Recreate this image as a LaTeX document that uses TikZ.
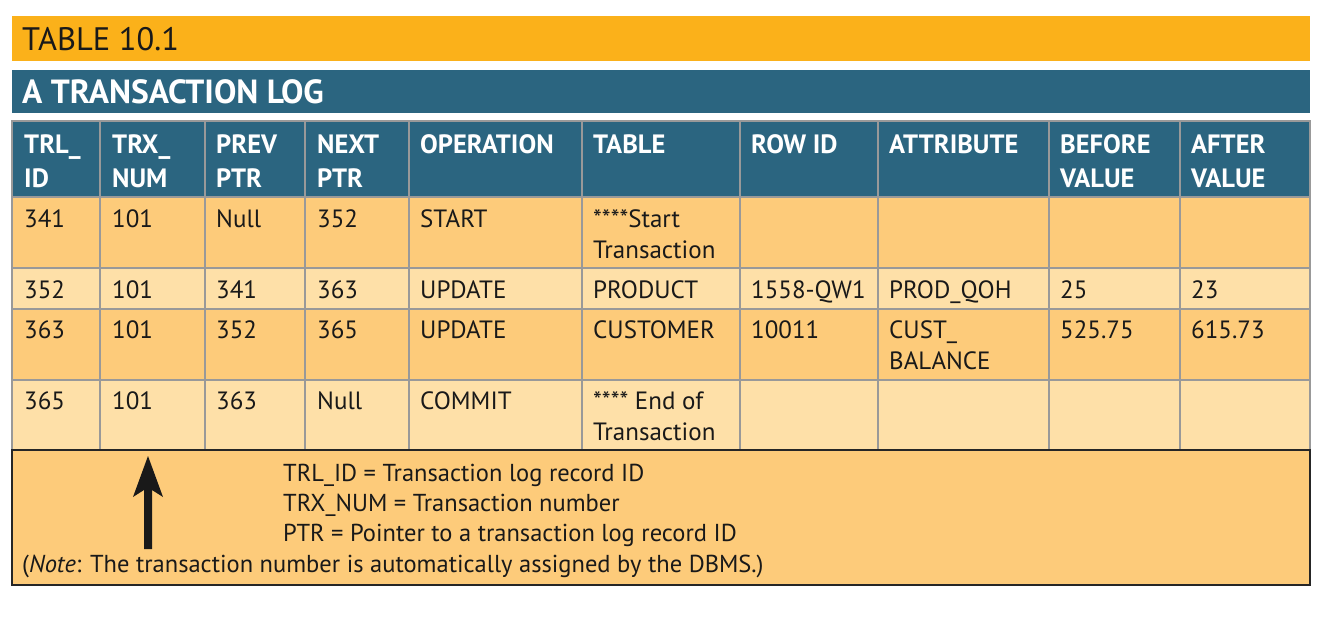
\documentclass[tikz,border=0pt]{standalone}
\usepackage{fontspec}
\setmainfont{PT Sans}
\definecolor{ora}{HTML}{FBB11A}
\definecolor{blu}{HTML}{2B6580}
\definecolor{dk}{HTML}{FDCB7A}
\definecolor{lt}{HTML}{FEE0A8}
\definecolor{grd}{HTML}{999999}
\tikzset{hd/.style={anchor=base west,text=white,font=\fontsize{26.5}{34}\selectfont\bfseries,align=left,inner sep=0pt},
 cell/.style={anchor=base west,text=black!90,font=\fontsize{25}{31}\selectfont,align=left,inner sep=0pt},
 leg/.style={anchor=base west,text=black!90,font=\fontsize{24.5}{30}\selectfont,inner sep=0pt}}
\begin{document}
\begin{tikzpicture}[x=1pt,y=-1pt]
\useasboundingbox (0,0) rectangle (1322,624);
\fill[ora] (12,16) rectangle (1310,61);
\node[anchor=base west,inner sep=0pt,font=\fontsize{32.5}{32}\selectfont,text=black!90] (t1) at (22,50) {TABLE 10.1};
\fill[blu] (12,70) rectangle (1310,113);
\node[anchor=base west,inner sep=0pt,font=\fontsize{33.5}{32}\selectfont\bfseries,text=white] (t2) at (22,103) {A TRANSACTION LOG};
\fill[blu] (12,121) rectangle (1310,197);
\fill[dk] (12,197) rectangle (1310,268);
\fill[lt] (12,268) rectangle (1310,309);
\fill[dk] (12,309) rectangle (1310,380);
\fill[lt] (12,380) rectangle (1310,450);
\fill[dk] (12,450) rectangle (1310,585);
\foreach \x in {100,205,305,409,582,740,878,1049,1180}{\draw[grd,line width=2] (\x,121) -- (\x,450);}
\foreach \y in {197,268,309,380}{\draw[grd,line width=2] (12,\y) -- (1310,\y);}
\draw[grd,line width=2] (12,121) rectangle (1310,450);
\draw[black!85,line width=1.5] (12,450) rectangle (1310,585);
% header
\node[hd] (h1) at (24,187) {TRL\_\\ID};
\node[hd] (h2) at (112,187) {TRX\_\\NUM};
\node[hd] (h3) at (216,187) {PREV\\PTR};
\node[hd] (h4) at (317,187) {NEXT\\PTR};
\node[hd] (h5) at (420,153) {OPERATION};
\node[hd] (h6) at (593,153) {TABLE};
\node[hd] (h7) at (751,153) {ROW ID};
\node[hd] (h8) at (889,153) {ATTRIBUTE};
\node[hd] (h9) at (1060,187) {BEFORE\\VALUE};
\node[hd] (h10) at (1191,187) {AFTER\\VALUE};
% row 1
\node[cell] (a1) at (24,227) {341};
\node[cell] (a2) at (112,227) {101};
\node[cell] (a3) at (216,227) {Null};
\node[cell] (a4) at (317,227) {352};
\node[cell] (a5) at (420,227) {START};
\node[cell] (a6) at (593,258) {****Start\\Transaction};
% row 2
\node[cell] (b1) at (24,298) {352};
\node[cell] (b2) at (112,298) {101};
\node[cell] (b3) at (216,298) {341};
\node[cell] (b4) at (317,298) {363};
\node[cell] (b5) at (420,298) {UPDATE};
\node[cell] (b6) at (593,298) {PRODUCT};
\node[cell] (b7) at (751,298) {1558-QW1};
\node[cell] (b8) at (889,298) {PROD\_QOH};
\node[cell] (b9) at (1060,298) {25};
\node[cell] (b10) at (1191,298) {23};
% row 3
\node[cell] (c1) at (24,338) {363};
\node[cell] (c2) at (112,338) {101};
\node[cell] (c3) at (216,338) {352};
\node[cell] (c4) at (317,338) {365};
\node[cell] (c5) at (420,338) {UPDATE};
\node[cell] (c6) at (593,338) {CUSTOMER};
\node[cell] (c7) at (751,338) {10011};
\node[cell] (c8) at (889,369) {CUST\_\\BALANCE};
\node[cell] (c9) at (1060,338) {525.75};
\node[cell] (c10) at (1191,338) {615.73};
% row 4
\node[cell] (d1) at (24,409) {365};
\node[cell] (d2) at (112,409) {101};
\node[cell] (d3) at (216,409) {363};
\node[cell] (d4) at (317,409) {Null};
\node[cell] (d5) at (420,409) {COMMIT};
\node[cell] (d6) at (593,440) {**** End of\\Transaction};
% legend
\node[leg] (l1) at (283,481) {TRL\_ID = Transaction log record ID};
\node[leg] (l2) at (283,511) {TRX\_NUM = Transaction number};
\node[leg] (l3) at (283,541) {PTR = Pointer to a transaction log record ID};
\node[leg] (l4) at (22,572) {(\textit{Note}: The transaction number is automatically assigned by the DBMS.)};
\coordinate (as) at (148,549);
\coordinate (ae) at (148,456);
\fill[black!90] (144,549) -- (144,490) -- (133,497) -- (148,456) -- (163,497) -- (152,490) -- (152,549) -- cycle;
\end{tikzpicture}
\end{document}
